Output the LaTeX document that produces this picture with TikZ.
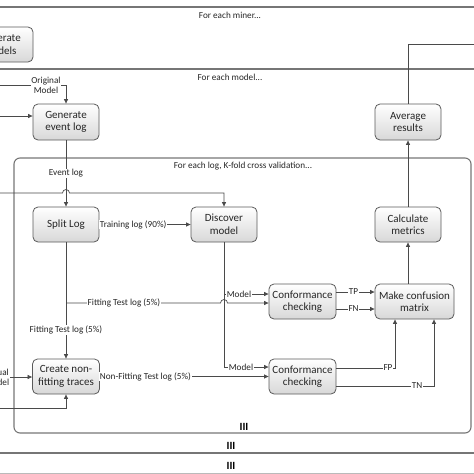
\documentclass[tikz,border=0pt]{standalone}
\usepackage{fontspec}
\setmainfont{Carlito}
\usetikzlibrary{arrows.meta,calc}
\definecolor{boxline}{HTML}{5A5A5A}
\definecolor{boxbot}{HTML}{D8D8D8}
\definecolor{wire}{HTML}{4A4A4A}
\definecolor{framec}{HTML}{767676}
\definecolor{txt}{HTML}{262626}
\begin{document}
\begin{tikzpicture}[x=1pt,y=-1pt,
  box/.style={draw=boxline, line width=0.8pt, rounded corners=5pt, top color=white, bottom color=boxbot, minimum width=66pt, minimum height=35pt, align=center, font=\fontsize{11}{12.5}\selectfont, text=txt, inner sep=1pt},
  lbl/.style={fill=white, inner sep=0.8pt, font=\fontsize{9.2}{10}\selectfont, text=txt},
  ttl/.style={inner sep=0pt, font=\fontsize{9.2}{10}\selectfont, text=txt},
  mark3/.style={inner sep=0pt, font=\bfseries\fontsize{11}{12}\selectfont, text=black},
  conn/.style={draw=wire, line width=0.7pt},
  arr/.style={conn, -{Triangle[length=4.5pt,width=4pt]}},
  frame/.style={draw=framec, line width=1.1pt}
]
\useasboundingbox (0,0) rectangle (474,474);
\clip (0,0) rectangle (474,474);
% frames
\draw[frame] (-10,7) -- (480,7);
\draw[frame] (-10,69) -- (480,69);
\draw[frame, rounded corners=6pt] (14,158) rectangle (471,433);
\draw[frame] (-10,453) -- (480,453);
\draw[draw=framec!50, line width=1pt] (-10,473) -- (480,473);
\node[ttl] (t1) at (230,15) {For each miner...};
\node[ttl] (t2) at (230,77) {For each model...};
\node[ttl] (t3) at (243,166) {For each log, K-fold cross validation...};
\node[mark3] (m3a) at (244,427) {III};
\node[mark3] (m3b) at (231,446) {III};
\node[mark3] (m3c) at (231,466) {III};
% boxes
\node[box] (gm) at (0,44.5) {Generate\\models};
\node[box, minimum height=36pt] (gel) at (66,122) {Generate\\event log};
\node[box] (split) at (66,224.5) {Split Log};
\node[box] (disc) at (224,224.5) {Discover\\model};
\node[box] (calc) at (408,224.5) {Calculate\\metrics};
\node[box, minimum height=36pt] (avg) at (408,122) {Average\\results};
\node[box, minimum width=67pt] (cc1) at (302.5,301.5) {Conformance\\checking};
\node[box, minimum width=79pt] (mcm) at (414.5,301.5) {Make confusion\\matrix};
\node[box, minimum width=67pt] (cnf) at (66,376.5) {Create non-\\fitting traces};
\node[box, minimum width=67pt] (cc2) at (302.5,376.5) {Conformance\\checking};
% connectors
\coordinate (om0) at (-10,85);
\draw[arr] (om0) -- (om0 -| gel.north) -- (gel.north);
\node[lbl, align=center] (lom) at (46,85) {Original\\Model};
\coordinate (in1) at (-10,116);
\draw[arr] (in1) -- (in1 -| gel.west);
\draw[arr] (gel.south) -- node[lbl, pos=0.5] (lev) {Event log} (split.north);
\coordinate (h0) at (-10,193);
\draw[arr] (h0) -- ($(h0 -| split.north)+(-3.5,0)$) arc[start angle=180, end angle=360, radius=3.5] -- (h0 -| disc.north) -- (disc.north);
\draw[arr] (split.east) -- node[lbl, pos=0.37] (ltr) {Training log (90\%)} (disc.west);
\draw[arr] (split.south) -- node[lbl, pos=0.75] (lft1) {Fitting Test log (5\%)} (cnf.north);
\coordinate (f0) at (66,303);
\draw[arr] (f0) -- ($(f0 -| disc.south)+(-3.5,0)$) arc[start angle=180, end angle=360, radius=3.5] -- (f0 -| cc1.west);
\node[lbl] (lft2) at (124,303) {Fitting Test log (5\%)};
\coordinate (m2) at (224,367);
\draw[arr] (disc.south) -- (m2) -- (m2 -| cc2.west);
\node[lbl] (lm2) at (241,367) {Model};
\coordinate (m1) at (224,294);
\draw[arr] (m1) -- (m1 -| cc1.west);
\node[lbl] (lm1) at (239,294) {Model};
\draw[arr] ($(cc1.east)+(0,-9.5)$) -- node[lbl, pos=0.45] (ltp) {TP} ($(mcm.west)+(0,-9.5)$);
\draw[arr] ($(cc1.east)+(0,7.5)$) -- node[lbl, pos=0.45] (lfn) {FN} ($(mcm.west)+(0,7.5)$);
\coordinate (fp) at (395,368);
\draw[arr] ($(cc2.east)+(0,-8.5)$) -- (fp) -- (fp |- mcm.south);
\node[lbl] (lfp) at (388,368) {FP};
\coordinate (tn) at (434,386);
\draw[arr] ($(cc2.east)+(0,9.5)$) -- (tn) -- (tn |- mcm.south);
\node[lbl] (ltn) at (417,386) {TN};
\draw[arr] (calc.south |- mcm.north) -- (calc.south);
\draw[arr] (calc.north) -- (avg.south);
\coordinate (a1) at (408,44);
\coordinate (a2) at (480,44);
\draw[conn] (avg.north) -- (a1) -- (a2);
\coordinate (i2) at (-12,377);
\draw[arr] (i2) -- (i2 -| cnf.west);
\node[lbl, align=center] (lam) at (-3,377) {Actual\\Model};
\coordinate (b0) at (-10,408);
\draw[arr] (b0) -- (b0 -| cnf.south) -- (cnf.south);
\draw[arr] (cnf.east) -- node[lbl, pos=0.27] (lnf) {Non-Fitting Test log (5\%)} (cnf.east -| cc2.west);
\end{tikzpicture}
\end{document}
